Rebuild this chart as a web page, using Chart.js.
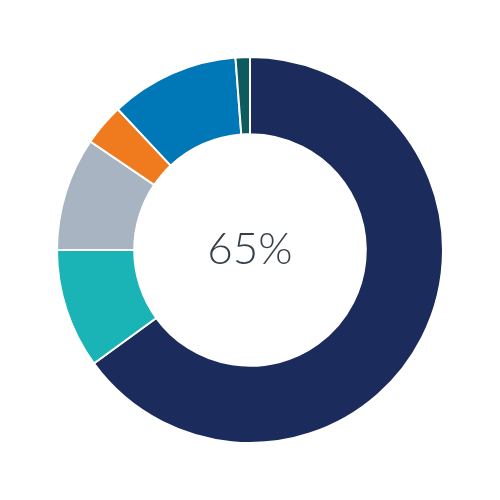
<!DOCTYPE html>
<html><head><meta charset="utf-8">
<script src="https://cdn.jsdelivr.net/npm/chart.js@4"></script>
<style>html,body{margin:0;background:#fff}#w{position:relative;width:500px;height:500px}</style>
</head><body><div id="w"><canvas id="c" width="500" height="500"></canvas></div>
<script>
const categories = ["A","B","C","D","E","F"];
const values = [65, 10, 9.5, 3.5, 10.8, 1.2];
const colors = ["#1b2b5b","#1ab3b6","#a8b4c2","#f07b1e","#0077b6","#0d5b5c"];
const centerLabel = "65%";
const centerText = {id:"centerText", afterDraw(chart){
  const {ctx, chartArea:a} = chart;
  ctx.save();
  ctx.font = "300 44px Lato, 'Open Sans', sans-serif";
  ctx.fillStyle = "#36404a";
  ctx.textAlign = "center"; ctx.textBaseline = "middle";
  ctx.fillText(centerLabel, (a.left+a.right)/2, (a.top+a.bottom)/2);
  ctx.restore();
}};
new Chart(document.getElementById("c"), {
  type: "doughnut",
  data: {labels: categories, datasets: [{data: values, backgroundColor: colors, borderColor: "#fff", borderWidth: 2}]},
  options: {responsive:false, animation:false, cutout:"60%", layout:{padding:56},
    plugins:{legend:{display:false}, tooltip:{enabled:false}}},
  plugins:[centerText]
});
</script></body></html>
